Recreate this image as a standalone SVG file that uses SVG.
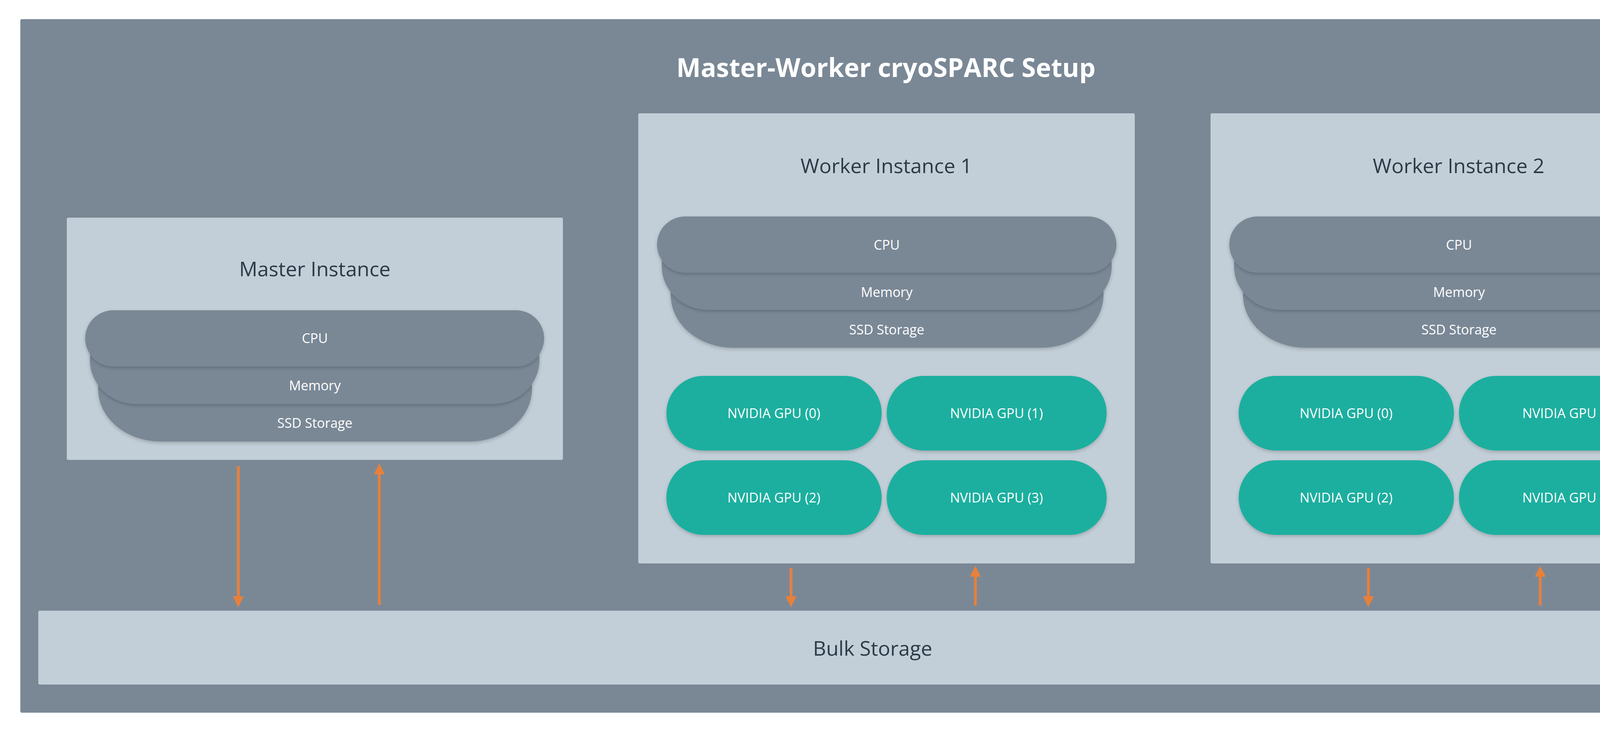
<svg xmlns="http://www.w3.org/2000/svg" width="4540" height="1876" viewBox="0 0 4540 1876">
<style>
.box{fill:#c3cfd8}
.pill{fill:#7a8896;filter:url(#sh)}
.gpu{fill:#1aaf9f;filter:url(#sh)}
.t{font-family:"Open Sans","Liberation Sans",sans-serif;text-anchor:middle;dominant-baseline:central}
.h{fill:#2b3a47;font-size:52px}
.w{fill:#ffffff;font-size:34px}
.arr{stroke:#e8803a;stroke-width:7;fill:none}
</style>
<defs>
<filter id="sh" x="-10%" y="-20%" width="120%" height="150%"><feDropShadow dx="0" dy="4" stdDeviation="5" flood-color="#000" flood-opacity="0.2"/></filter>
<marker id="ah" viewBox="0 0 10 10" refX="5" refY="5" markerWidth="4" markerHeight="4" orient="auto-start-reverse"><path d="M0,0 L10,5 L0,10 z" fill="#e8803a"/></marker>
</defs>
<rect width="4540" height="1876" fill="#ffffff"/>
<rect x="52" y="49" width="4436" height="1775" rx="4" fill="#7a8896"/>
<text class="t" x="2268" y="171" fill="#ffffff" font-size="66" font-weight="bold">Master-Worker cryoSPARC Setup</text>

<g id="master">
<rect class="box" x="171" y="557" width="1270" height="620" rx="4"/>
<text class="t h" x="806" y="686">Master Instance</text>
<rect class="pill" x="251" y="860" width="1111" height="270" rx="160"/>
<rect class="pill" x="230" y="810" width="1151" height="224" rx="120"/>
<rect class="pill" x="218" y="794" width="1175" height="144" rx="72"/>
<text class="t w" x="806" y="865">CPU</text>
<text class="t w" x="806" y="986">Memory</text>
<text class="t w" x="806" y="1082">SSD Storage</text>
</g>

<g id="worker1">
<rect class="box" x="1634" y="290" width="1271" height="1152" rx="4"/>
<text class="t h" x="2269" y="422">Worker Instance 1</text>
<rect class="pill" x="1717" y="620" width="1108" height="270" rx="160"/>
<rect class="pill" x="1694" y="570" width="1152" height="223" rx="120"/>
<rect class="pill" x="1682" y="554" width="1176" height="144" rx="72"/>
<text class="t w" x="2270" y="626">CPU</text>
<text class="t w" x="2270" y="747">Memory</text>
<text class="t w" x="2270" y="843">SSD Storage</text>
<rect class="gpu" x="1706" y="962" width="551" height="191" rx="95"/>
<rect class="gpu" x="2270" y="962" width="563" height="191" rx="95"/>
<rect class="gpu" x="1706" y="1178" width="551" height="191" rx="95"/>
<rect class="gpu" x="2270" y="1178" width="563" height="191" rx="95"/>
<text class="t w" x="1981" y="1057">NVIDIA GPU (0)</text>
<text class="t w" x="2551" y="1057">NVIDIA GPU (1)</text>
<text class="t w" x="1981" y="1273">NVIDIA GPU (2)</text>
<text class="t w" x="2551" y="1273">NVIDIA GPU (3)</text>
</g>

<g id="worker2">
<rect class="box" x="3099" y="290" width="1271" height="1152" rx="4"/>
<text class="t h" x="3734" y="422">Worker Instance 2</text>
<rect class="pill" x="3182" y="620" width="1108" height="270" rx="160"/>
<rect class="pill" x="3159" y="570" width="1152" height="223" rx="120"/>
<rect class="pill" x="3147" y="554" width="1176" height="144" rx="72"/>
<text class="t w" x="3735" y="626">CPU</text>
<text class="t w" x="3735" y="747">Memory</text>
<text class="t w" x="3735" y="843">SSD Storage</text>
<rect class="gpu" x="3171" y="962" width="551" height="191" rx="95"/>
<rect class="gpu" x="3735" y="962" width="563" height="191" rx="95"/>
<rect class="gpu" x="3171" y="1178" width="551" height="191" rx="95"/>
<rect class="gpu" x="3735" y="1178" width="563" height="191" rx="95"/>
<text class="t w" x="3446" y="1057">NVIDIA GPU (0)</text>
<text class="t w" x="4016" y="1057">NVIDIA GPU (1)</text>
<text class="t w" x="3446" y="1273">NVIDIA GPU (2)</text>
<text class="t w" x="4016" y="1273">NVIDIA GPU (3)</text>
</g>

<g id="bulk">
<rect class="box" x="98" y="1563" width="4271" height="189" rx="4"/>
<text class="t h" x="2234" y="1657" font-size="38">Bulk Storage</text>
</g>

<g id="connectors">
<line class="arr" x1="610" y1="1193" x2="610" y2="1540" marker-end="url(#ah)"/>
<line class="arr" x1="971" y1="1548" x2="971" y2="1200" marker-end="url(#ah)"/>
<line class="arr" x1="2025" y1="1454" x2="2025" y2="1540" marker-end="url(#ah)"/>
<line class="arr" x1="2497" y1="1550" x2="2497" y2="1462" marker-end="url(#ah)"/>
<line class="arr" x1="3503" y1="1454" x2="3503" y2="1540" marker-end="url(#ah)"/>
<line class="arr" x1="3943" y1="1550" x2="3943" y2="1462" marker-end="url(#ah)"/>
</g>
</svg>
